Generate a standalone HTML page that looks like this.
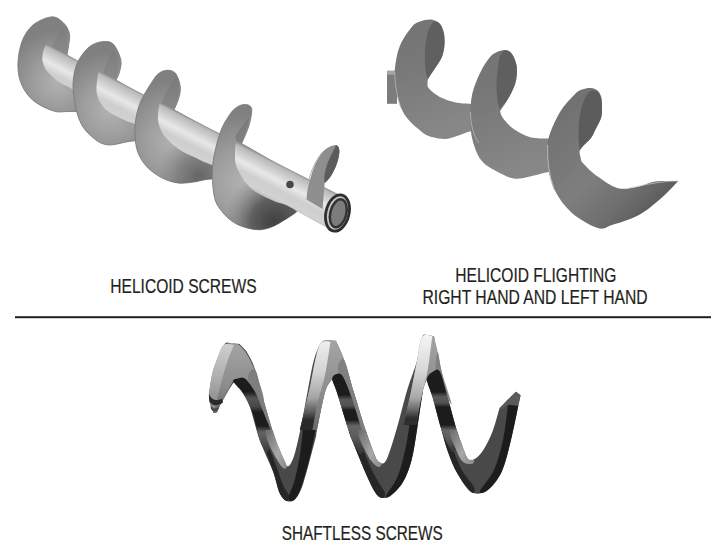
<!DOCTYPE html>
<html><head><meta charset="utf-8">
<style>
html,body{margin:0;padding:0;background:#fff;}
body{width:723px;height:555px;overflow:hidden;position:relative;}
svg{position:absolute;left:0;top:0;display:block;}
text{font-family:"Liberation Sans",sans-serif;font-size:20px;fill:#231f20;stroke:#231f20;stroke-width:0.2px;}
</style></head><body>
<svg width="723" height="555" viewBox="0 0 723 555">
<defs>
  <filter id="soft" x="-5%" y="-5%" width="110%" height="110%"><feGaussianBlur stdDeviation="0.6"/></filter>
  <linearGradient id="shaft" gradientUnits="userSpaceOnUse" x1="200" y1="123.2" x2="182.6" y2="157.0">
    <stop offset="0" stop-color="#929292"/>
    <stop offset="0.06" stop-color="#bababa"/>
    <stop offset="0.27" stop-color="#d6d6d6"/>
    <stop offset="0.4" stop-color="#e8e8e8"/>
    <stop offset="0.62" stop-color="#cecece"/>
    <stop offset="0.85" stop-color="#d2d2d2"/>
    <stop offset="1" stop-color="#b4b4b4"/>
  </linearGradient>
  <radialGradient id="rf1" gradientUnits="userSpaceOnUse" cx="58" cy="82" r="52">
    <stop offset="0" stop-color="#b2b2b2"/>
    <stop offset="0.45" stop-color="#9e9e9e"/>
    <stop offset="1" stop-color="#808080"/>
  </radialGradient>
  <radialGradient id="rf2" gradientUnits="userSpaceOnUse" cx="110" cy="110" r="58">
    <stop offset="0" stop-color="#b2b2b2"/>
    <stop offset="0.45" stop-color="#9e9e9e"/>
    <stop offset="1" stop-color="#808080"/>
  </radialGradient>
  <radialGradient id="rf3" gradientUnits="userSpaceOnUse" cx="174" cy="142" r="62">
    <stop offset="0" stop-color="#b2b2b2"/>
    <stop offset="0.45" stop-color="#9e9e9e"/>
    <stop offset="1" stop-color="#808080"/>
  </radialGradient>
  <radialGradient id="rf4" gradientUnits="userSpaceOnUse" cx="244" cy="182" r="68">
    <stop offset="0" stop-color="#b2b2b2"/>
    <stop offset="0.45" stop-color="#9e9e9e"/>
    <stop offset="1" stop-color="#808080"/>
  </radialGradient>
  <radialGradient id="skirt4r" gradientUnits="userSpaceOnUse" cx="274" cy="221" r="50">
    <stop offset="0" stop-color="#3c3c3c" stop-opacity="0.95"/>
    <stop offset="0.45" stop-color="#4a4a4a" stop-opacity="0.75"/>
    <stop offset="1" stop-color="#8a8a8a" stop-opacity="0"/>
  </radialGradient>
  <radialGradient id="skirt3r" gradientUnits="userSpaceOnUse" cx="198" cy="175" r="42">
    <stop offset="0" stop-color="#5a5a5a" stop-opacity="0.8"/>
    <stop offset="0.5" stop-color="#6a6a6a" stop-opacity="0.5"/>
    <stop offset="1" stop-color="#8a8a8a" stop-opacity="0"/>
  </radialGradient>
  <linearGradient id="fl2" x1="0" y1="0" x2="0.25" y2="1">
    <stop offset="0" stop-color="#727272"/>
    <stop offset="0.5" stop-color="#7a7a7a"/>
    <stop offset="1" stop-color="#878787"/>
  </linearGradient>
  <linearGradient id="fl3" gradientUnits="userSpaceOnUse" x1="560" y1="120" x2="660" y2="220">
    <stop offset="0" stop-color="#727272"/>
    <stop offset="0.45" stop-color="#7e7e7e"/>
    <stop offset="0.75" stop-color="#6c6c6c"/>
    <stop offset="1" stop-color="#525252"/>
  </linearGradient>
  <linearGradient id="band1" gradientUnits="userSpaceOnUse" x1="0" y1="378" x2="0" y2="454"><stop offset="0.000" stop-color="#1e1e1e"/><stop offset="0.184" stop-color="#1e1e1e"/><stop offset="0.263" stop-color="#555"/><stop offset="0.368" stop-color="#4a4a4a"/><stop offset="0.447" stop-color="#1e1e1e"/><stop offset="0.632" stop-color="#1e1e1e"/><stop offset="0.711" stop-color="#626262"/><stop offset="0.816" stop-color="#565656"/><stop offset="1.000" stop-color="#333"/></linearGradient>
  <linearGradient id="band2" gradientUnits="userSpaceOnUse" x1="0" y1="374" x2="0" y2="455"><stop offset="0.000" stop-color="#1e1e1e"/><stop offset="0.259" stop-color="#1e1e1e"/><stop offset="0.321" stop-color="#5a5a5a"/><stop offset="0.395" stop-color="#505050"/><stop offset="0.444" stop-color="#1e1e1e"/><stop offset="0.568" stop-color="#1e1e1e"/><stop offset="0.642" stop-color="#666"/><stop offset="0.765" stop-color="#5c5c5c"/><stop offset="1.000" stop-color="#333"/></linearGradient>
  <linearGradient id="band3" gradientUnits="userSpaceOnUse" x1="0" y1="371" x2="0" y2="452"><stop offset="0.000" stop-color="#1e1e1e"/><stop offset="0.259" stop-color="#1e1e1e"/><stop offset="0.321" stop-color="#5a5a5a"/><stop offset="0.395" stop-color="#505050"/><stop offset="0.444" stop-color="#1e1e1e"/><stop offset="0.667" stop-color="#1e1e1e"/><stop offset="0.728" stop-color="#666"/><stop offset="0.852" stop-color="#5a5a5a"/><stop offset="1.000" stop-color="#333"/></linearGradient>
  <linearGradient id="cap" x1="0" y1="0" x2="0" y2="1">
    <stop offset="0" stop-color="#a4a4a4"/>
    <stop offset="0.6" stop-color="#8c8c8c"/>
    <stop offset="1" stop-color="#6a6a6a"/>
  </linearGradient>
  <linearGradient id="light1" gradientUnits="userSpaceOnUse" x1="0" y1="344" x2="0" y2="413">
    <stop offset="0" stop-color="#cfcfcf"/>
    <stop offset="0.5" stop-color="#adadad"/>
    <stop offset="1" stop-color="#808080"/>
  </linearGradient>
  <linearGradient id="light2" gradientUnits="userSpaceOnUse" x1="0" y1="341" x2="0" y2="430"><stop offset="0.000" stop-color="#eeeeee"/><stop offset="0.348" stop-color="#d4d4d4"/><stop offset="0.640" stop-color="#a4a4a4"/><stop offset="0.798" stop-color="#5a5a5a"/><stop offset="0.888" stop-color="#2a2a2a"/><stop offset="1.000" stop-color="#2a2a2a"/></linearGradient>
  <linearGradient id="light3" gradientUnits="userSpaceOnUse" x1="0" y1="336" x2="0" y2="425"><stop offset="0.000" stop-color="#f4f4f4"/><stop offset="0.382" stop-color="#d8d8d8"/><stop offset="0.697" stop-color="#a8a8a8"/><stop offset="0.831" stop-color="#666"/><stop offset="0.921" stop-color="#2e2e2e"/><stop offset="1.000" stop-color="#2e2e2e"/></linearGradient>
  <linearGradient id="streak" x1="0" y1="0" x2="1" y2="1">
    <stop offset="0" stop-color="#6a6a6a"/>
    <stop offset="0.6" stop-color="#a8a8a8"/>
    <stop offset="1" stop-color="#8a8a8a"/>
  </linearGradient>
</defs>

<!-- ============ IMAGE 1: HELICOID SCREWS ============ -->
<g id="img1" filter="url(#soft)">
  <!-- F1 -->
  <path fill="url(#rf1)" stroke="#7c7c7c" stroke-width="0.9" d="M51.6,16.9 C56.7,16.5 60.5,20.1 63.5,22.9 C66.5,25.7 68.6,29.9 69.4,33.8 C70.2,37.6 68.9,42.5 68.5,46.0 C68.1,49.5 67.2,53.5 67.0,55.0 C72.5,58.3 94.5,71.7 100.0,75.0 C100.0,81.1 100.0,105.4 100.0,111.5 C94.9,111.5 77.1,111.6 69.4,111.5 C61.7,111.4 59.5,112.8 53.6,111.0 C47.7,109.2 39.1,105.3 33.8,101.0 C28.5,96.7 24.5,91.1 21.9,85.2 C19.2,79.3 17.9,72.7 17.9,65.4 C17.9,58.2 19.4,48.4 21.9,41.7 C24.4,35.0 28.1,29.1 33.0,25.0 C38.0,20.9 46.5,17.2 51.6,16.9 Z"/>
  <path fill="#7a7a7a" opacity="0.45" d="M61,28 C66,32 68,40 67,55 L52,47 C55,40 58,33 61,28 Z"/>
  <!-- S1 -->
  <path fill="url(#shaft)" d="M46.6,44.4 L100,71.8 L100,100 L76,92 C73,90 71,88 69.4,87.2 C62,84 58,82 55.5,79.3 C50,74 45,70 44.7,67.4 C42,62 42,58 42.7,55.5 C43,50 45,46 46.6,44.4 Z"/>
  <!-- F2 -->
  <path fill="url(#rf2)" stroke="#7c7c7c" stroke-width="0.9" d="M105.1,41.5 C108.8,41.5 111.4,41.9 114.0,45.0 C116.6,48.1 119.9,55.4 120.8,59.9 C121.7,64.4 120.3,68.7 119.5,72.0 C118.7,75.3 116.6,78.7 116.0,80.0 C124.2,84.7 156.8,103.3 165.0,108.0 C165.0,113.3 165.0,134.7 165.0,140.0 C159.7,140.2 142.7,140.2 133.0,141.0 C123.3,141.8 114.2,145.8 107.0,144.8 C99.8,143.8 94.7,139.3 90.0,135.0 C85.3,130.7 81.8,126.3 79.0,119.0 C76.2,111.7 73.9,99.2 73.2,91.0 C72.5,82.8 73.6,75.9 75.0,70.0 C76.4,64.1 78.6,60.0 81.4,55.8 C84.2,51.6 88.0,47.4 92.0,45.0 C96.0,42.6 101.4,41.5 105.1,41.5 Z"/>
  <path fill="#7a7a7a" opacity="0.45" d="M113,50 C119,56 120,66 116,80 L103,73 C106,64 109,56 113,50 Z"/>
  <!-- S2 -->
  <path fill="url(#shaft)" d="M98.6,71.4 L165,105.2 L165,136 L135.5,124 C130,122.5 125,120.5 120,118 C113,114.5 108,111.5 104.5,108.4 C100,103 97.5,98 96.7,92.9 C96,86 97.5,77 98.6,71.4 Z"/>
  <!-- F3 -->
  <path fill="url(#rf3)" stroke="#7c7c7c" stroke-width="0.9" d="M168.9,70.3 C171.4,70.6 174.1,71.2 176.0,74.0 C177.9,76.8 179.9,82.8 180.3,87.0 C180.7,91.2 179.6,95.2 178.5,99.0 C177.4,102.8 174.8,108.0 174.0,109.8 C185.0,115.8 229.0,140.0 240.0,146.0 C240.0,151.0 240.0,171.0 240.0,176.0 C234.7,176.6 215.8,178.3 208.1,179.3 C200.4,180.3 198.8,181.4 193.7,182.0 C188.6,182.6 182.9,183.7 177.5,182.9 C172.1,182.2 166.4,180.2 161.3,177.5 C156.2,174.8 150.7,170.9 146.8,166.7 C142.9,162.5 139.8,157.4 137.8,152.3 C135.9,147.2 135.4,141.7 135.1,136.0 C134.8,130.3 134.9,124.0 136.0,118.0 C137.1,112.0 138.3,106.6 141.4,100.0 C144.5,93.4 151.0,83.1 154.3,78.4 C157.6,73.7 158.6,73.3 161.0,72.0 C163.4,70.7 166.4,70.0 168.9,70.3 Z"/>
  <path fill="#747474" opacity="0.45" d="M176,77 C180,84 180,96 174,109.8 L162,103 C166,92 170,83 176,77 Z"/>
  <path fill="url(#skirt3r)" d="M168.9,70.3 C171.4,70.6 174.1,71.2 176.0,74.0 C177.9,76.8 179.9,82.8 180.3,87.0 C180.7,91.2 179.6,95.2 178.5,99.0 C177.4,102.8 174.8,108.0 174.0,109.8 C185.0,115.8 229.0,140.0 240.0,146.0 C240.0,151.0 240.0,171.0 240.0,176.0 C234.7,176.6 215.8,178.3 208.1,179.3 C200.4,180.3 198.8,181.4 193.7,182.0 C188.6,182.6 182.9,183.7 177.5,182.9 C172.1,182.2 166.4,180.2 161.3,177.5 C156.2,174.8 150.7,170.9 146.8,166.7 C142.9,162.5 139.8,157.4 137.8,152.3 C135.9,147.2 135.4,141.7 135.1,136.0 C134.8,130.3 134.9,124.0 136.0,118.0 C137.1,112.0 138.3,106.6 141.4,100.0 C144.5,93.4 151.0,83.1 154.3,78.4 C157.6,73.7 158.6,73.3 161.0,72.0 C163.4,70.7 166.4,70.0 168.9,70.3 Z"/>
  <!-- S3 -->
  <path fill="url(#shaft)" d="M159.7,102.8 L240,143.7 L240,176 L214.8,166.2 C208,163.5 204,162 200,160 C194,157 188,155 182.4,151.6 C176,147.5 172,144 168,140 C164,136 161.5,132 160,128 C158.5,124 158,121 158,118 C158,112 158.8,106 159.7,102.8 Z"/>
  <!-- F4 -->
  <path fill="url(#rf4)" stroke="#7c7c7c" stroke-width="0.9" d="M245.4,104.5 C247.5,104.5 249.4,105.2 250.5,106.5 C251.6,107.8 252.0,108.6 251.7,112.0 C251.4,115.4 250.2,121.8 248.5,127.0 C246.8,132.2 242.8,140.8 241.6,143.5 C251.3,149.1 290.3,171.4 300.0,177.0 C299.7,182.5 298.3,204.5 298.0,210.0 C297.6,210.5 297.4,211.3 295.4,212.8 C293.4,214.3 290.3,216.5 286.2,218.9 C282.1,221.3 275.9,225.5 270.8,227.3 C265.7,229.1 261.4,230.2 255.5,229.6 C249.6,229.0 241.2,226.6 235.6,223.5 C230.0,220.4 225.4,215.9 221.8,211.3 C218.2,206.7 215.7,203.7 214.2,196.0 C212.7,188.3 211.7,175.8 212.7,165.3 C213.7,154.8 217.2,141.4 220.1,132.8 C223.0,124.2 227.2,118.3 230.2,113.9 C233.2,109.5 235.5,108.1 238.0,106.5 C240.5,104.9 243.3,104.5 245.4,104.5 Z"/>
  <path fill="#6c6c6c" opacity="0.5" d="M249.1,118 C247,128 244,138 241.6,143.5 L236,141 C236,137 235.5,136.6 235.3,136.6 C240,128 245,122 249.1,118 Z"/>
  <path fill="url(#skirt4r)" d="M245.4,104.5 C247.5,104.5 249.4,105.2 250.5,106.5 C251.6,107.8 252.0,108.6 251.7,112.0 C251.4,115.4 250.2,121.8 248.5,127.0 C246.8,132.2 242.8,140.8 241.6,143.5 C251.3,149.1 290.3,171.4 300.0,177.0 C299.7,182.5 298.3,204.5 298.0,210.0 C297.6,210.5 297.4,211.3 295.4,212.8 C293.4,214.3 290.3,216.5 286.2,218.9 C282.1,221.3 275.9,225.5 270.8,227.3 C265.7,229.1 261.4,230.2 255.5,229.6 C249.6,229.0 241.2,226.6 235.6,223.5 C230.0,220.4 225.4,215.9 221.8,211.3 C218.2,206.7 215.7,203.7 214.2,196.0 C212.7,188.3 211.7,175.8 212.7,165.3 C213.7,154.8 217.2,141.4 220.1,132.8 C223.0,124.2 227.2,118.3 230.2,113.9 C233.2,109.5 235.5,108.1 238.0,106.5 C240.5,104.9 243.3,104.5 245.4,104.5 Z"/>
  <!-- S4 -->
  <path fill="url(#shaft)" d="M236,142 L341.8,196 L338,231 L332.8,231 L296.9,211.3 C292,208 287,205 281.6,203.6 C275,202 269,199 263.2,196 C257,193 252,190 247.9,185.2 C244,181 241,176 237.9,169.9 C235,164 235,160 235,155 C235,150 235,146 236,142 Z"/>
  <circle cx="290" cy="184.5" r="3.8" fill="#4a4a4a"/>
  <!-- end blade -->
  <path fill="#8e8e8e" d="M336,145 C339,146 340,150 339,155 C338,163 334,171 331,176 C328,180 326,182 324.7,183 L322.5,209 L306.5,199.5 C307,192 308,186 310.5,178 C313,168 317,159 323,151.5 C327,147.5 332,145 336,145 Z"/>
  <path fill="#5c5c5c" d="M336,145 C339,146 340,150 339,155 C338,163 334,171 331,176 C328,180 326,182 324.7,183 C323.5,177 325,170 328,162 C331,155 334,150 336,145 Z"/>
  <path fill="none" stroke="#b0b0b0" stroke-width="1" d="M322,152.5 C316,160 311,170 308.5,182"/>
  <!-- tube end -->
  <ellipse cx="337.5" cy="213" rx="11.5" ry="18.5" transform="rotate(14 337.5 213)" fill="#c6c6c6" stroke="#2e2e2e" stroke-width="2.8"/>
  <ellipse cx="338.3" cy="213.3" rx="8" ry="14.3" transform="rotate(14 338.3 213.3)" fill="#7c7c7c" stroke="#333" stroke-width="2.5"/>
</g>

<!-- ============ IMAGE 2: HELICOID FLIGHTING ============ -->
<g id="img2" filter="url(#soft)">
  <rect x="387" y="70.8" width="10" height="33" fill="#7c7c7c"/>
  <rect x="387" y="70.8" width="10" height="4" fill="#a4a4a4"/>
  <path fill="url(#fl2)" d="M420.0,21.5 C423.2,20.2 427.8,19.2 431.0,19.5 C434.2,19.8 436.9,21.1 439.0,23.0 C441.1,24.9 442.6,27.9 443.5,31.0 C444.4,34.1 444.8,37.4 444.6,41.6 C444.4,45.8 443.8,51.7 442.2,56.2 C440.6,60.7 437.1,64.9 434.9,68.4 C432.7,71.9 430.2,74.7 429.0,77.0 C427.8,79.3 427.6,80.1 427.6,82.0 C427.6,83.9 426.8,85.9 429.0,88.5 C431.2,91.1 436.6,95.3 441.0,97.6 C445.4,99.9 450.9,101.5 455.6,102.5 C460.3,103.5 465.6,103.5 469.0,103.7 C472.4,104.0 474.8,104.0 476.0,104.0 C476.0,108.5 476.0,126.5 476.0,131.0 C474.8,131.1 472.2,130.9 469.0,131.7 C465.8,132.5 460.9,134.8 457.0,136.0 C453.1,137.2 450.0,138.8 445.8,139.0 C441.6,139.2 436.1,138.2 432.0,137.0 C427.9,135.8 426.1,135.4 421.5,131.7 C416.9,128.0 408.8,121.5 404.5,114.6 C400.2,107.7 397.6,97.6 396.0,90.3 C394.4,83.0 394.1,78.1 394.7,70.8 C395.3,63.5 396.8,53.8 399.6,46.5 C402.5,39.2 408.4,31.2 411.8,27.0 C415.2,22.8 416.8,22.8 420.0,21.5 Z"/>
  <path fill="#5a5a5a" opacity="0.8" d="M428.0,32.0 C429.5,27.3 431.8,23.1 434.0,22.0 C436.2,20.9 439.2,22.2 441.0,25.5 C442.8,28.8 444.4,36.5 444.6,41.6 C444.8,46.7 443.8,51.7 442.2,56.2 C440.6,60.7 437.3,64.6 434.9,68.4 C432.5,72.2 429.1,77.2 428.0,79.0 C427.6,77.5 426.0,74.8 425.5,70.0 C425.0,65.2 424.6,56.3 425.0,50.0 C425.4,43.7 426.5,36.7 428.0,32.0 Z"/>
  <path fill="none" stroke="#b8b8b8" stroke-width="1" opacity="0.8" d="M394.7,72 C395,84 397,98 401,108"/>
  <path fill="url(#fl2)" d="M496.0,52.5 C498.6,51.2 502.6,49.8 505.3,50.0 C508.0,50.2 510.1,51.2 512.0,54.0 C513.9,56.8 516.1,61.7 516.7,66.5 C517.3,71.3 516.9,77.4 515.4,82.9 C513.9,88.4 510.1,95.3 507.8,99.3 C505.5,103.3 502.8,105.0 501.5,107.0 C500.2,109.0 500.0,109.6 500.3,111.5 C500.6,113.4 500.9,115.5 503.2,118.4 C505.5,121.4 509.5,126.0 514.0,129.2 C518.5,132.3 524.4,135.7 530.3,137.3 C536.2,138.9 544.9,138.4 549.2,138.6 C553.5,138.8 554.9,138.6 556.0,138.6 C556.0,144.0 556.0,165.6 556.0,171.0 C554.3,171.2 550.3,171.6 546.0,172.5 C541.7,173.4 535.4,175.5 530.0,176.5 C524.6,177.5 519.5,179.4 513.8,178.5 C508.1,177.6 501.5,174.1 496.0,171.0 C490.5,167.9 484.9,165.2 481.0,160.0 C477.1,154.8 474.3,146.9 472.5,140.0 C470.7,133.1 470.4,126.1 470.3,118.4 C470.2,110.7 470.5,101.7 472.2,94.0 C473.9,86.3 477.4,78.5 480.3,72.4 C483.2,66.3 487.1,60.9 489.7,57.6 C492.3,54.3 493.4,53.8 496.0,52.5 Z"/>
  <path fill="#5a5a5a" opacity="0.8" d="M500.0,56.0 C501.2,53.1 503.3,50.8 505.3,50.5 C507.3,50.2 510.1,51.3 512.0,54.0 C513.9,56.7 516.1,61.7 516.7,66.5 C517.3,71.3 516.9,77.4 515.4,82.9 C513.9,88.4 510.3,94.7 507.8,99.3 C505.3,103.9 501.6,108.8 500.3,110.7 C499.8,108.9 498.1,104.6 497.5,100.0 C496.9,95.4 496.4,88.3 496.5,83.0 C496.6,77.7 497.4,72.5 498.0,68.0 C498.6,63.5 498.8,58.9 500.0,56.0 Z"/>
  <path fill="none" stroke="#b8b8b8" stroke-width="1" opacity="0.8" d="M470.5,112 C470.5,125 474,137 479,143"/>
  <path fill="url(#fl3)" d="M582.0,89.5 C584.7,88.4 588.3,87.8 591.0,88.0 C593.7,88.2 596.2,89.3 598.0,91.0 C599.8,92.7 600.8,95.0 601.5,98.0 C602.2,101.0 602.1,105.5 602.0,108.8 C601.9,112.1 602.0,114.8 601.0,118.0 C600.0,121.2 597.9,124.7 596.2,128.0 C594.5,131.3 593.0,135.2 591.0,138.0 C589.0,140.8 585.9,142.9 584.0,145.0 C582.1,147.1 580.4,148.5 579.8,150.5 C579.2,152.5 579.9,154.8 580.5,157.0 C581.1,159.2 580.4,160.3 583.3,163.6 C586.2,166.9 591.9,172.5 597.7,176.6 C603.5,180.7 611.2,186.5 617.9,188.2 C624.6,189.9 631.8,187.8 638.0,186.7 C644.2,185.6 648.7,182.4 655.4,181.5 C662.1,180.6 674.6,181.1 678.4,181.0 C675.5,183.9 667.8,192.5 661.1,198.3 C654.4,204.1 646.2,211.2 638.0,215.6 C629.8,220.0 618.8,222.9 612.1,225.0 C605.4,227.1 604.4,230.1 597.7,228.0 C591.0,225.9 578.9,219.1 571.7,212.7 C564.5,206.3 558.5,198.2 554.4,189.6 C550.3,180.9 548.2,169.5 547.2,160.8 C546.2,152.2 546.5,145.9 548.7,137.7 C550.9,129.5 555.9,118.9 560.2,111.7 C564.5,104.5 571.0,98.1 574.6,94.4 C578.2,90.7 579.3,90.6 582.0,89.5 Z"/>
  <path fill="#555" opacity="0.8" d="M586.0,96.0 C588.3,91.9 591.7,90.7 594.0,90.5 C596.3,90.3 598.7,92.0 600.0,95.0 C601.3,98.0 601.8,105.0 602.0,108.8 C602.2,112.6 602.0,114.8 601.0,118.0 C600.0,121.2 597.9,124.7 596.2,128.0 C594.5,131.3 593.0,135.2 591.0,138.0 C589.0,140.8 585.9,142.9 584.0,145.0 C582.1,147.1 580.5,149.6 579.8,150.5 C579.6,147.9 578.5,140.9 578.5,135.0 C578.5,129.1 578.8,121.5 580.0,115.0 C581.2,108.5 583.7,100.1 586.0,96.0 Z"/>
  <path fill="none" stroke="#c0c0c0" stroke-width="1.2" opacity="0.8" d="M547.5,145 C547,160 549,175 554,189"/>
  <path fill="none" stroke="#d0d0d0" stroke-width="1.2" opacity="0.7" d="M625,189 C640,186 655,181 678,181"/>
</g>

<!-- ============ IMAGE 3: SHAFTLESS SCREWS ============ -->
<g id="img3" filter="url(#soft)">
  <path fill="#484848" d="M209.0,398.5 C209.2,396.8 208.8,393.4 210.0,388.0 C211.2,382.6 213.8,373.3 216.2,366.0 C218.6,358.7 221.7,348.1 224.3,344.4 C226.9,340.7 229.4,343.7 232.0,343.6 C234.6,343.5 238.3,343.9 239.6,344.0 C240.9,345.6 245.1,349.1 247.7,353.4 C250.3,357.7 252.7,362.2 255.3,370.0 C257.9,377.8 260.1,388.3 263.5,400.0 C266.9,411.7 272.7,431.8 275.4,440.0 C278.1,448.2 277.7,445.2 279.6,449.5 C281.5,453.8 284.5,464.7 286.8,466.0 C289.1,467.3 291.2,463.4 293.5,457.4 C295.8,451.4 297.9,441.0 300.3,430.0 C302.7,419.0 305.3,403.2 307.6,391.5 C309.9,379.8 311.6,368.1 313.9,360.0 C316.2,351.9 318.9,345.9 321.4,342.6 C323.8,339.4 326.2,340.8 328.6,340.5 C331.0,340.2 334.7,340.8 335.9,340.8 C337.3,344.0 341.2,351.6 344.1,360.0 C347.1,368.4 350.0,379.8 353.6,391.5 C357.2,403.2 361.9,419.0 365.6,430.0 C369.3,441.0 372.9,451.8 375.6,457.4 C378.3,463.0 379.6,463.4 381.6,463.4 C383.6,463.4 384.9,463.3 387.5,457.4 C390.1,451.5 393.7,439.0 397.0,427.8 C400.3,416.6 403.9,401.1 407.2,390.0 C410.5,378.9 414.5,369.9 417.0,361.0 C419.5,352.1 420.5,340.9 422.3,336.7 C424.1,332.5 426.1,335.9 428.0,335.8 C429.9,335.7 433.0,336.1 434.0,336.2 C435.1,342.3 438.0,362.3 440.3,372.6 C442.6,382.9 445.1,388.2 447.8,397.8 C450.5,407.4 453.5,420.1 456.7,430.0 C459.9,439.9 463.9,452.3 466.8,457.2 C469.7,462.1 471.1,460.8 473.8,459.6 C476.5,458.4 480.1,454.9 483.2,450.2 C486.3,445.5 489.8,438.5 492.5,431.5 C495.2,424.5 498.4,411.9 499.6,408.0 C500.4,407.2 501.5,406.1 504.2,403.4 C506.9,400.7 514.0,393.6 516.0,391.7 C516.8,392.3 519.8,394.6 520.6,395.2 C520.2,396.9 518.7,403.9 518.3,405.7 C517.1,411.2 514.0,427.6 511.3,438.5 C508.6,449.4 505.8,462.7 501.9,471.3 C498.0,479.9 493.0,486.5 487.9,490.0 C482.8,493.5 476.6,495.0 471.5,492.3 C466.4,489.6 461.3,480.3 457.4,473.6 C453.5,466.9 450.6,459.3 448.0,452.0 C445.4,444.7 444.1,439.0 441.5,430.0 C438.9,421.0 435.1,406.1 432.7,397.8 C430.3,389.5 427.9,383.0 427.0,380.0 C426.3,381.7 424.6,382.0 423.0,390.0 C421.4,398.0 419.2,416.1 417.3,427.8 C415.4,439.5 414.0,451.0 411.6,460.0 C409.2,469.0 406.4,476.2 403.0,482.0 C399.6,487.8 394.9,492.3 391.5,495.0 C388.1,497.7 385.2,498.3 382.6,498.0 C380.0,497.7 378.4,497.1 375.6,493.0 C372.8,488.9 369.6,482.2 365.7,473.3 C361.8,464.4 354.8,446.8 351.9,439.6 C349.0,432.4 351.1,438.0 348.5,430.0 C345.9,422.0 339.3,400.0 336.6,391.5 C333.9,383.0 332.9,381.0 332.2,378.9 C331.0,381.0 327.7,383.0 325.2,391.5 C322.7,400.0 318.7,422.0 317.0,430.0 C315.3,438.0 317.5,430.8 315.2,439.6 C312.9,448.4 306.7,473.1 303.4,483.0 C300.1,492.9 298.2,496.0 295.4,499.0 C292.6,502.0 289.1,502.0 286.5,501.0 C283.9,500.0 281.7,497.6 279.6,493.0 C277.5,488.4 277.0,482.1 273.7,473.3 C270.4,464.5 263.6,450.9 259.7,440.0 C255.8,429.1 253.0,416.3 250.2,407.8 C247.4,399.3 244.8,393.7 242.7,388.9 C240.6,384.1 238.4,380.5 237.6,378.8 C236.8,379.6 234.7,380.9 232.6,383.9 C230.5,386.8 227.1,392.9 225.0,396.5 C222.9,400.1 221.1,403.1 219.8,405.7 C218.5,408.3 217.6,410.9 217.1,412.0 C216.5,412.2 214.1,412.8 213.5,413.0 C212.8,410.6 209.8,400.9 209.0,398.5 Z"/>
  <path fill="#262626" d="M259.7,440.0 C260.9,442.3 264.6,448.1 266.9,453.7 C269.2,459.2 271.6,466.8 273.7,473.3 C275.8,479.9 277.5,488.4 279.6,493.0 C281.7,497.6 284.9,500.5 286.5,501.0 C288.1,501.5 289.6,498.7 289.0,496.0 C288.4,493.3 285.0,489.7 283.0,485.0 C281.0,480.3 279.2,473.8 277.0,468.0 C274.8,462.2 272.2,454.7 270.0,450.0 C267.8,445.3 265.0,441.7 264.0,440.0 C263.3,440.0 260.4,440.0 259.7,440.0 Z"/>
  <path fill="#262626" d="M348.5,430.0 C349.1,431.6 349.0,432.4 351.9,439.6 C354.8,446.8 361.8,464.4 365.7,473.3 C369.6,482.2 372.8,488.9 375.6,493.0 C378.4,497.1 381.0,498.0 382.6,498.0 C384.2,498.0 385.6,495.5 385.0,493.0 C384.4,490.5 381.3,487.2 379.0,483.0 C376.7,478.8 374.5,475.5 371.0,468.0 C367.5,460.5 360.8,444.3 358.0,438.0 C355.2,431.7 354.7,431.3 354.0,430.0 C353.1,430.0 349.4,430.0 348.5,430.0 Z"/>
  <path fill="#262626" d="M441.5,430.0 C442.6,433.7 445.4,444.7 448.0,452.0 C450.6,459.3 453.5,466.9 457.4,473.6 C461.3,480.3 468.7,490.1 471.5,492.3 C474.3,494.5 475.4,490.4 474.0,487.0 C472.6,483.6 466.3,477.8 463.0,472.0 C459.7,466.2 456.7,459.0 454.0,452.0 C451.3,445.0 448.2,433.7 447.0,430.0 C446.1,430.0 442.4,430.0 441.5,430.0 Z"/>
  <path fill="url(#cap)" d="M209.3,401.5 C209.3,400.1 208.8,397.4 209.3,392.8 C209.8,388.2 210.8,380.0 212.2,374.0 C213.6,368.0 215.9,361.7 218.0,356.8 C220.1,351.9 221.0,346.6 224.5,344.5 C228.0,342.4 236.5,344.5 238.9,344.5 C240.2,346.1 244.3,349.9 246.8,353.9 C249.3,357.9 251.6,362.5 254.0,368.3 C256.4,374.1 259.6,383.2 261.3,388.5 C263.0,393.8 263.6,398.1 264.0,400.0 C262.5,399.2 258.1,398.5 255.0,395.0 C251.9,391.5 248.2,381.9 245.4,379.1 C242.6,376.3 239.4,378.5 238.2,378.4 C237.3,378.9 235.3,378.3 233.1,381.3 C230.9,384.3 227.2,392.4 225.0,396.5 C222.8,400.6 221.1,403.1 219.8,405.7 C218.5,408.3 218.1,410.8 217.1,412.0 C216.1,413.2 214.3,412.8 213.7,413.0 C213.0,411.1 210.0,403.4 209.3,401.5 Z"/>
  <path fill="url(#light1)" d="M224.5,344.5 C227.2,342.6 232.3,345.1 233.9,345.2 C232.9,347.6 230.0,354.1 228.1,359.6 C226.2,365.1 224.0,372.4 222.3,378.4 C220.6,384.4 219.0,391.6 218.0,395.7 C217.0,399.8 217.2,400.1 216.5,403.0 C215.8,405.9 214.2,411.3 213.7,413.0 C213.0,411.1 210.0,403.4 209.3,401.5 C209.3,400.1 208.8,397.4 209.3,392.8 C209.8,388.2 210.8,380.0 212.2,374.0 C213.6,368.0 215.9,361.7 218.0,356.8 C220.1,351.9 221.8,346.4 224.5,344.5 Z"/>
  <path fill="#2a2a2a" d="M208.8,393.5 C211,399 215,402 222,398.5 L223,402.5 C216,407.5 211,405 209.2,400.5 Z"/>
  <path fill="#484848" d="M210.5,405 C212.5,409 215.5,409.5 218.8,406.5 L218,409.5 C215.5,412.5 212.5,412 210.8,408.5 Z"/>
  <path fill="#7e7e7e" d="M255.3,370.0 C257.9,373.7 260.1,388.3 263.5,400.0 C266.9,411.7 272.7,431.8 275.4,440.0 C278.1,448.2 278.9,447.9 279.6,449.5 C278.7,449.9 274.9,451.6 274.0,452.0 C272.7,448.3 269.0,438.7 266.0,430.0 C263.0,421.3 259.0,408.7 256.0,400.0 C253.0,391.3 248.1,383.0 248.0,378.0 C247.9,373.0 252.7,366.3 255.3,370.0 Z"/>
  <path fill="url(#band1)" d="M238.2,378.4 C240.2,378.0 242.5,376.7 245.4,379.1 C248.3,381.5 252.6,387.6 255.5,392.8 C258.4,398.0 260.3,404.3 262.7,410.2 C265.1,416.1 267.9,423.0 270.0,428.0 C272.1,433.0 274.5,438.0 275.4,440.0 C274.0,442.3 268.3,451.4 266.9,453.7 C265.7,451.4 262.1,446.8 259.7,440.0 C257.3,433.2 255.5,420.9 252.6,413.0 C249.7,405.1 245.8,398.1 242.5,392.8 C239.2,387.5 233.8,383.7 233.1,381.3 C232.4,378.9 236.1,378.8 238.2,378.4 Z"/>
  <path fill="url(#streak)" d="M265.0,430.0 C266.3,430.0 271.3,430.0 272.6,430.0 C273.8,433.2 277.2,443.5 279.6,449.5 C282.0,455.5 286.2,462.9 286.8,466.0 C287.4,469.1 284.8,469.3 283.0,468.0 C281.2,466.7 278.5,462.3 276.0,458.0 C273.5,453.7 269.8,446.7 268.0,442.0 C266.2,437.3 265.5,432.0 265.0,430.0 Z"/>
  <path fill="#1e1e1e" d="M303.6,420.0 C305.9,420.0 315.1,420.0 317.4,420.0 C316.4,425.1 313.9,440.0 311.3,450.7 C308.8,461.4 304.9,476.2 302.1,484.4 C299.3,492.6 296.7,497.4 294.4,499.7 C292.1,502.0 288.3,501.3 288.3,498.2 C288.3,495.1 292.3,489.2 294.4,481.3 C296.4,473.4 299.1,460.9 300.6,450.7 C302.1,440.5 303.1,425.1 303.6,420.0 Z"/>
  <path fill="url(#cap)" d="M299.8,430.0 C300.7,426.2 303.4,415.2 305.2,407.5 C307.0,399.8 308.8,392.4 310.6,384.0 C312.4,375.6 314.2,363.9 316.0,357.0 C317.8,350.1 318.1,345.3 321.4,342.6 C324.7,339.9 333.5,341.1 335.9,340.8 C337.3,344.0 341.2,351.6 344.1,360.0 C347.1,368.4 351.3,384.0 353.6,391.5 C355.9,399.0 357.3,402.8 358.0,405.0 C356.9,403.8 354.2,402.6 351.7,397.8 C349.2,393.0 345.4,380.4 342.9,376.4 C340.4,372.4 337.7,374.3 336.6,373.9 C335.9,374.7 334.1,376.0 332.2,378.9 C330.3,381.8 327.7,383.0 325.2,391.5 C322.7,400.0 318.4,423.6 317.0,430.0 C314.1,430.0 302.7,430.0 299.8,430.0 Z"/>
  <path fill="url(#light2)" d="M321.4,342.6 C323.8,340.1 329.0,342.1 330.5,342.0 C329.6,347.5 327.1,365.0 325.0,375.0 C322.9,385.0 319.9,392.8 317.8,402.0 C315.7,411.2 313.3,425.3 312.4,430.0 C310.3,430.0 301.9,430.0 299.8,430.0 C300.7,426.2 303.4,415.2 305.2,407.5 C307.0,399.8 308.8,392.4 310.6,384.0 C312.4,375.6 314.2,363.9 316.0,357.0 C317.8,350.1 319.0,345.1 321.4,342.6 Z"/>
  <path fill="#808080" d="M344.1,360.0 C346.7,363.6 350.0,379.8 353.6,391.5 C357.2,403.2 361.9,419.0 365.6,430.0 C369.3,441.0 373.9,452.8 375.6,457.4 C374.7,457.8 370.9,459.6 370.0,460.0 C368.2,455.0 362.7,440.8 359.0,430.0 C355.3,419.2 351.5,405.0 348.0,395.0 C344.5,385.0 338.6,375.8 338.0,370.0 C337.4,364.2 341.5,356.4 344.1,360.0 Z"/>
  <path fill="url(#band2)" d="M336.6,373.9 C338.4,373.5 340.4,372.4 342.9,376.4 C345.4,380.4 348.5,388.9 351.7,397.8 C354.9,406.7 359.1,421.6 361.8,430.0 C364.5,438.4 367.0,445.0 368.0,448.0 C366.7,449.2 361.3,453.8 360.0,455.0 C358.6,452.4 353.8,443.8 351.9,439.6 C350.0,435.4 351.1,438.0 348.5,430.0 C345.9,422.0 339.3,400.0 336.6,391.5 C333.9,383.0 332.2,381.8 332.2,378.9 C332.2,376.0 334.8,374.3 336.6,373.9 Z"/>
  <path fill="url(#streak)" d="M358.0,430.0 C359.3,430.0 364.3,430.0 365.6,430.0 C367.3,434.6 372.9,451.8 375.6,457.4 C378.3,463.0 381.2,461.8 381.6,463.4 C382.0,465.0 379.9,467.7 378.0,467.0 C376.1,466.3 373.0,463.5 370.0,459.0 C367.0,454.5 362.0,444.8 360.0,440.0 C358.0,435.2 358.3,431.7 358.0,430.0 Z"/>
  <path fill="#1e1e1e" d="M413.0,390.0 C414.7,390.0 421.3,390.0 423.0,390.0 C422.1,396.3 419.2,416.1 417.3,427.8 C415.4,439.5 414.0,451.0 411.6,460.0 C409.2,469.0 406.4,476.2 403.0,482.0 C399.6,487.8 394.3,492.7 391.5,495.0 C388.7,497.3 385.1,498.8 386.0,496.0 C386.9,493.2 394.0,484.8 397.0,478.0 C400.0,471.2 402.0,463.3 404.0,455.0 C406.0,446.7 407.5,438.8 409.0,428.0 C410.5,417.2 412.3,396.3 413.0,390.0 Z"/>
  <path fill="url(#cap)" d="M403.4,425.0 C404.6,419.8 408.3,404.2 410.6,393.5 C412.9,382.8 415.1,370.5 417.0,361.0 C418.9,351.5 419.5,340.8 422.3,336.7 C425.1,332.6 432.1,336.3 434.0,336.2 C434.6,338.8 436.5,346.4 437.7,352.0 C438.9,357.6 439.5,363.1 441.3,370.0 C443.1,376.9 446.7,387.7 448.5,393.5 C450.3,399.3 451.4,403.1 452.0,405.0 C451.3,403.8 449.8,403.2 447.8,397.8 C445.9,392.4 442.5,377.1 440.3,372.6 C438.1,368.1 435.6,371.0 434.6,370.7 C433.3,372.1 429.2,374.6 427.0,379.0 C424.8,383.4 423.2,389.3 421.4,397.0 C419.6,404.7 416.9,420.3 416.0,425.0 C413.9,425.0 405.5,425.0 403.4,425.0 Z"/>
  <path fill="url(#light3)" d="M422.3,336.7 C424.9,332.5 430.6,336.1 432.3,336.0 C431.5,341.7 429.5,359.8 427.7,370.0 C425.9,380.2 423.3,387.8 421.4,397.0 C419.4,406.2 416.9,420.3 416.0,425.0 C413.9,425.0 405.5,425.0 403.4,425.0 C404.6,419.8 408.3,404.2 410.6,393.5 C412.9,382.8 415.1,370.5 417.0,361.0 C418.9,351.5 419.8,340.9 422.3,336.7 Z"/>
  <path fill="#808080" d="M437.7,352.0 C438.6,351.7 439.6,362.4 441.3,370.0 C443.0,377.6 445.2,387.8 447.8,397.8 C450.4,407.8 453.5,420.1 456.7,430.0 C459.9,439.9 465.1,452.7 466.8,457.2 C465.8,457.7 462.0,459.5 461.0,460.0 C459.3,455.0 454.0,440.3 451.0,430.0 C448.0,419.7 445.5,407.7 443.0,398.0 C440.5,388.3 436.9,379.7 436.0,372.0 C435.1,364.3 436.8,352.3 437.7,352.0 Z"/>
  <path fill="url(#band3)" d="M434.6,370.7 C436.8,369.6 438.1,368.1 440.3,372.6 C442.5,377.1 445.1,388.2 447.8,397.8 C450.5,407.4 454.3,422.0 456.7,430.0 C459.1,438.0 461.1,443.3 462.0,446.0 C460.3,447.0 453.7,451.0 452.0,452.0 C451.3,450.8 449.8,448.7 448.0,445.0 C446.2,441.3 444.1,437.9 441.5,430.0 C438.9,422.1 435.1,406.3 432.7,397.8 C430.3,389.3 426.7,383.5 427.0,379.0 C427.3,374.5 432.4,371.8 434.6,370.7 Z"/>
  <path fill="url(#streak)" d="M449.0,430.0 C450.3,430.0 455.4,430.0 456.7,430.0 C458.4,434.5 463.9,452.3 466.8,457.2 C469.7,462.1 472.9,458.5 473.8,459.6 C474.7,460.7 474.0,463.8 472.0,464.0 C470.0,464.2 465.3,465.0 462.0,461.0 C458.7,457.0 454.2,445.2 452.0,440.0 C449.8,434.8 449.5,431.7 449.0,430.0 Z"/>
  <path fill="#1e1e1e" d="M508.0,405.0 C509.7,405.1 516.6,405.6 518.3,405.7 C517.1,411.2 514.0,427.6 511.3,438.5 C508.6,449.4 505.8,462.7 501.9,471.3 C498.0,479.9 491.5,486.7 487.9,490.0 C484.2,493.3 479.0,494.3 480.0,491.0 C481.0,487.7 490.2,478.5 494.0,470.0 C497.8,461.5 500.7,450.8 503.0,440.0 C505.3,429.2 507.2,410.8 508.0,405.0 Z"/>
  <path fill="#5a5a5a" d="M499.6,408.0 C500.4,407.2 501.5,406.1 504.2,403.4 C506.9,400.7 514.0,393.6 516.0,391.7 C516.8,392.3 519.8,394.6 520.6,395.2 C520.2,396.9 518.7,403.9 518.3,405.7 C516.6,405.6 510.6,404.4 508.0,405.0 C505.4,405.6 504.4,408.5 503.0,409.0 C501.6,409.5 500.2,408.2 499.6,408.0 Z"/>
</g>

<!-- ============ TEXT & RULE ============ -->
<text transform="translate(110.25 293) scale(0.78 1)">HELICOID SCREWS</text>
<text transform="translate(455.35 282) scale(0.78 1)">HELICOID FLIGHTING</text>
<text transform="translate(422.45 304) scale(0.785 1)">RIGHT HAND AND LEFT HAND</text>
<text transform="translate(281.7 540) scale(0.767 1)">SHAFTLESS SCREWS</text>
<rect x="15" y="316.2" width="696" height="2" fill="#231f20"/>
</svg>
</body></html>
